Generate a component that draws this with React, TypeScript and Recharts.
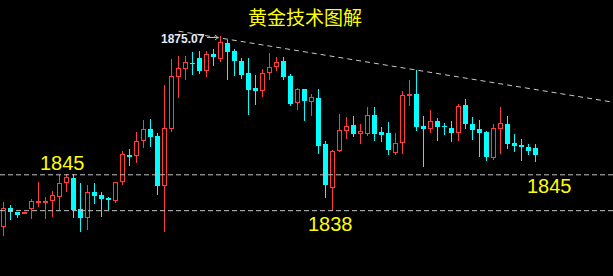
import React from "react";
import { ComposedChart, Bar, XAxis, YAxis, ReferenceLine } from "recharts";

// K线数据
const opens = [
  1833.65, 1837.78, 1836.91, 1836.48, 1837.57, 1838.87, 1839.3, 1839.3, 1840.17, 1843.22,
  1844.3, 1837.57, 1835.61, 1841.26, 1840.61, 1839.96, 1839.3, 1843.43, 1849.3, 1849.09,
  1852.35, 1854.96, 1853.43, 1842.57, 1854.96, 1866.26, 1868.0, 1869.3, 1870.39, 1867.57,
  1871.26, 1870.17, 1873.65, 1871.91, 1869.74, 1867.13, 1863.87, 1863.22, 1867.13, 1868.43,
  1869.74, 1866.48, 1860.61, 1863.65, 1860.83, 1861.7, 1851.7, 1842.13, 1850.17, 1854.52,
  1855.83, 1853.87, 1853.87, 1858.0, 1854.3, 1854.09, 1849.74, 1851.91, 1862.13, 1862.57,
  1855.61, 1854.96, 1856.7, 1855.61, 1855.17, 1854.09, 1860.17, 1856.04, 1854.96, 1854.3,
  1848.65, 1854.96, 1856.04, 1851.91, 1851.48, 1851.04, 1850.83,
];
const closes = [
  1837.78, 1836.91, 1836.26, 1836.91, 1839.3, 1839.3, 1839.4, 1840.61, 1843.22, 1844.52,
  1837.35, 1835.61, 1841.26, 1840.39, 1839.74, 1839.52, 1843.43, 1849.52, 1848.87, 1852.35,
  1854.96, 1853.22, 1842.57, 1855.17, 1866.48, 1868.22, 1869.52, 1869.09, 1867.57, 1871.26,
  1870.61, 1873.87, 1871.7, 1869.74, 1866.7, 1863.43, 1863.22, 1867.13, 1868.43, 1869.52,
  1866.26, 1860.39, 1863.65, 1861.04, 1861.91, 1851.26, 1842.78, 1850.17, 1854.74, 1855.61,
  1853.87, 1854.52, 1858.0, 1853.87, 1853.65, 1850.39, 1851.91, 1862.35, 1862.57, 1855.39,
  1854.96, 1856.7, 1855.39, 1855.39, 1854.09, 1859.96, 1856.04, 1854.74, 1854.09, 1848.87,
  1855.17, 1856.26, 1851.7, 1851.26, 1851.04, 1850.17, 1849.3,
];
const highs = [
  1839.09, 1838.43, 1836.91, 1836.91, 1839.74, 1843.43, 1840.17, 1841.48, 1844.96, 1845.17,
  1845.17, 1843.22, 1842.78, 1843.22, 1841.26, 1840.17, 1843.43, 1850.17, 1850.61, 1854.3,
  1856.91, 1857.13, 1854.09, 1864.52, 1870.17, 1870.83, 1870.83, 1871.7, 1871.91, 1871.91,
  1872.35, 1875.07, 1874.3, 1872.35, 1870.39, 1870.39, 1866.7, 1868.0, 1871.48, 1870.61,
  1870.61, 1866.91, 1863.87, 1863.65, 1862.57, 1863.65, 1852.35, 1850.39, 1858.22, 1857.57,
  1857.78, 1856.04, 1859.74, 1859.74, 1855.39, 1856.48, 1854.09, 1863.22, 1865.61, 1867.78,
  1857.78, 1859.09, 1857.35, 1856.26, 1856.7, 1860.39, 1861.48, 1857.57, 1856.91, 1854.52,
  1856.04, 1859.74, 1857.78, 1853.87, 1852.78, 1851.7, 1851.7,
];
const lows = [
  1831.7, 1835.17, 1835.61, 1836.48, 1835.39, 1838.0, 1835.39, 1835.83, 1837.35, 1841.26,
  1835.61, 1832.57, 1833.0, 1838.65, 1835.83, 1837.35, 1838.87, 1842.78, 1846.91, 1847.57,
  1850.83, 1851.04, 1840.61, 1832.57, 1854.3, 1861.7, 1865.61, 1866.7, 1866.91, 1866.26,
  1868.65, 1869.52, 1865.61, 1866.48, 1865.83, 1858.0, 1860.17, 1861.91, 1865.61, 1867.57,
  1865.61, 1859.96, 1859.09, 1856.7, 1857.78, 1849.52, 1839.96, 1837.13, 1849.96, 1852.78,
  1853.22, 1851.7, 1853.43, 1852.35, 1852.13, 1849.3, 1849.3, 1849.52, 1859.96, 1854.52,
  1846.7, 1854.09, 1852.35, 1853.65, 1852.13, 1852.35, 1854.96, 1852.57, 1848.87, 1848.0,
  1848.22, 1849.52, 1850.61, 1849.96, 1848.0, 1849.3, 1847.78,
];

const slots = 88; // 右侧留空
const supportLevels = [1845, 1837.2];
const trendStart = { x: 25, y: 1876.22 };
const trendEnd = { x: 87, y: 1860.8 };

const UP = "#ff3c3c";
const DOWN = "#00ffff";
const YELLOW = "#ffff00";

const data = Array.from({ length: slots }, (_, i) =>
  i < opens.length
    ? { i, o: opens[i], h: highs[i], l: lows[i], c: closes[i] }
    : { i, o: null, h: null, l: null, c: null }
);

function Candle(props: any) {
  const { x, y, width, height, payload } = props;
  if (payload == null || payload.h == null) return null;
  const { o, h, l, c } = payload;
  const k = height / (h - l);
  const py = (v: number) => y + (h - v) * k;
  const cx = Math.floor(x + width / 2) + 0.5;
  const hi = Math.round(y);
  const lo = Math.round(y + height);
  let top = Math.round(py(Math.max(o, c)));
  let bot = Math.round(py(Math.min(o, c)));
  if (c >= o) {
    if (bot - top < 2) bot = top + 2;
    return (
      <g>
        <line x1={cx} x2={cx} y1={hi} y2={top} stroke={UP} />
        <line x1={cx} x2={cx} y1={bot} y2={lo} stroke={UP} />
        <rect x={x + 0.5} y={top + 0.5} width={width - 1} height={bot - top - 1} fill="#000" stroke={UP} />
      </g>
    );
  }
  if (bot - top < 1) bot = top + 1;
  return (
    <g>
      <line x1={cx} x2={cx} y1={hi} y2={lo} stroke={DOWN} />
      <rect x={x} y={top} width={width} height={bot - top} fill={DOWN} />
    </g>
  );
}

export default function App() {
  return (
    <div
      style={{
        position: "absolute",
        left: 0,
        top: 0,
        width: 613,
        height: 276,
        overflow: "hidden",
        background: "#000",
      }}
    >
      <ComposedChart width={616} height={276} data={data} margin={{ top: 0, right: 0, bottom: 0, left: 0 }}>
        <XAxis dataKey="i" hide />
        <YAxis domain={[1823, 1883]} hide allowDataOverflow />
        {supportLevels.map((v) => (
          <ReferenceLine key={v} y={v} stroke="#c4c4c4" strokeDasharray="5 3" />
        ))}
        <ReferenceLine segment={[trendStart, trendEnd]} stroke="#c8c8c8" strokeDasharray="5 4" />
        <Bar
          dataKey={(d: any) => (d.h == null ? null : [d.l, d.h])}
          barSize={5}
          shape={Candle}
          isAnimationActive={false}
        />
      </ComposedChart>
      <svg width={613} height={276} style={{ position: "absolute", left: 0, top: 0, pointerEvents: "none" }}>
        <text x={305} y={25} textAnchor="middle" fill={YELLOW} fontSize={19} fontFamily="'Noto Sans CJK SC', sans-serif">
          黄金技术图解
        </text>
        <text x={161} y={42.5} fill="#e4ecf6" fontSize={12} fontWeight="bold" fontFamily="'Liberation Sans', Arial, sans-serif">
          1875.07
        </text>
        <line x1={207} x2={218} y1={37.5} y2={37.5} stroke="#bdbdbd" />
        <polyline points="215,35 218,37.5 215,40" fill="none" stroke="#bdbdbd" />
        <g fill={YELLOW} fontSize={20} fontFamily="'Liberation Sans', Arial, sans-serif">
          <text x={40} y={170}>1845</text>
          <text x={308} y={231}>1838</text>
          <text x={527} y={193}>1845</text>
        </g>
      </svg>
    </div>
  );
}
